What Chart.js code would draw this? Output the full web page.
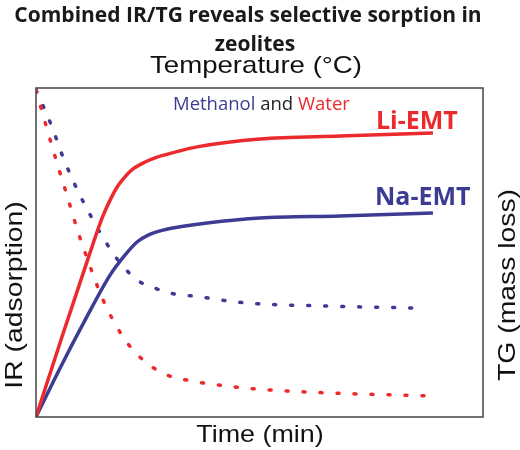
<!DOCTYPE html>
<html>
<head>
<meta charset="utf-8">
<script src="https://cdn.jsdelivr.net/npm/chart.js@4"></script>
<style>
  html, body { margin: 0; padding: 0; background: #fff; }
  #wrap { width: 520px; height: 450px; }
</style>
</head>
<body>
<div id="wrap"><canvas id="chart" width="520" height="450"></canvas></div>
<script>
// time axis (arbitrary units 0-100), IR / TG in arbitrary units 0-100
const liIrTime = [0, 5.8, 11.9, 14.8, 16.6, 18.3, 20.1, 21.7, 24.4, 27.1, 31.1, 36.0, 50.1, 68.0, 88.8];
const liIr     = [0, 24.3, 49.2, 60.5, 66.0, 70.2, 73.3, 75.4, 77.5, 79.0, 80.5, 82.1, 84.5, 85.4, 86.3];

const naIrTime = [0, 5.4, 11.0, 16.6, 19.9, 22.6, 25.1, 28.4, 32.2, 38.3, 50.1, 68.0, 88.8];
const naIr     = [0, 14.9, 29.5, 43.2, 49.2, 53.2, 55.3, 56.8, 57.8, 59.0, 60.5, 61.1, 62.0];

const waterTgTime = [0, 2.2, 4.5, 6.9, 9.2, 11.9, 15.0, 19.2, 22.1, 26.0, 29.8, 33.8, 37.6, 49.4, 65.8, 88.8];
const waterTg     = [99.4, 88.8, 78.1, 67.5, 57.1, 46.5, 35.6, 24.9, 19.8, 15.2, 12.5, 11.2, 10.3, 8.5, 7.3, 6.4];

const methTgTime = [0, 3.4, 6.3, 9.8, 13.9, 16.3, 19.2, 23.0, 27.1, 30.9, 34.9, 46.8, 65.8, 85.9];
const methTg     = [99.4, 88.8, 78.1, 67.5, 57.1, 51.7, 46.2, 41.3, 38.9, 37.4, 36.8, 34.7, 33.7, 33.1];

const RED = "#ec2a2e";
const BLUE = "#3d3c94";

const pts = (xs, ys) => xs.map((x, i) => ({ x: x, y: ys[i] }));

// text stretched a bit along its direction, like the original artwork
function wideText(ctx, text, x, y, sx, rot) {
  ctx.save();
  ctx.translate(x, y);
  if (rot) ctx.rotate(rot);
  ctx.scale(sx, 1);
  ctx.fillText(text, 0, 0);
  ctx.restore();
}

// box around the plot + all the labels
const decor = {
  id: "decor",
  afterDraw(chart) {
    const ctx = chart.ctx;
    const a = chart.chartArea;
    ctx.save();
    ctx.strokeStyle = "#444";
    ctx.lineWidth = 1.5;
    ctx.strokeRect(a.left, a.top, a.right - a.left, a.bottom - a.top);

    ctx.textAlign = "center";
    ctx.textBaseline = "alphabetic";
    ctx.fillStyle = "#1a1a1a";
    ctx.font = "bold 21px 'Open Sans'";
    ctx.fillText("Combined IR/TG reveals selective sorption in", 248, 22);
    ctx.fillText("zeolites", 255, 51);

    ctx.fillStyle = "#111";
    ctx.font = "24px 'Liberation Sans'";
    wideText(ctx, "Temperature (°C)", 256, 73, 1.15);
    wideText(ctx, "Time (min)", 260, 442, 1.12);
    wideText(ctx, "IR (adsorption)", 22, 295, 1.18, -Math.PI / 2);
    wideText(ctx, "TG (mass loss)", 515, 285, 1.18, -Math.PI / 2);

    ctx.textAlign = "left";
    ctx.font = "18.5px 'Open Sans'";
    let x = 173;
    const parts = [["Methanol", BLUE], [" and ", "#222"], ["Water", RED]];
    parts.forEach(([t, c]) => {
      ctx.fillStyle = c;
      ctx.fillText(t, x, 110);
      x += ctx.measureText(t).width;
    });

    ctx.font = "bold 25px 'Open Sans'";
    ctx.fillStyle = RED;
    ctx.fillText("Li-EMT", 376, 129);
    ctx.fillStyle = BLUE;
    ctx.fillText("Na-EMT", 375, 205);
    ctx.restore();
  }
};

const solid = (label, data, color) => ({
  label, data, borderColor: color, borderWidth: 3.5, pointRadius: 0,
  cubicInterpolationMode: "monotone"
});
const dotted = (label, data, color) => ({
  label, data, borderColor: color, borderWidth: 3.5, borderDash: [2, 15],
  borderCapStyle: "round", pointRadius: 0, cubicInterpolationMode: "monotone"
});

new Chart(document.getElementById("chart").getContext("2d"), {
  type: "line",
  data: {
    datasets: [
      solid("Li-EMT IR", pts(liIrTime, liIr), RED),
      solid("Na-EMT IR", pts(naIrTime, naIr), BLUE),
      dotted("Water TG", pts(waterTgTime, waterTg), RED),
      dotted("Methanol TG", pts(methTgTime, methTg), BLUE)
    ]
  },
  options: {
    responsive: false,
    animation: false,
    layout: { padding: { left: 36, right: 37, top: 88, bottom: 33 } },
    plugins: { legend: { display: false }, tooltip: { enabled: false } },
    scales: {
      x: { type: "linear", min: 0, max: 100, display: false },
      y: { min: 0, max: 100, display: false }
    }
  },
  plugins: [decor]
});
</script>
</body>
</html>
